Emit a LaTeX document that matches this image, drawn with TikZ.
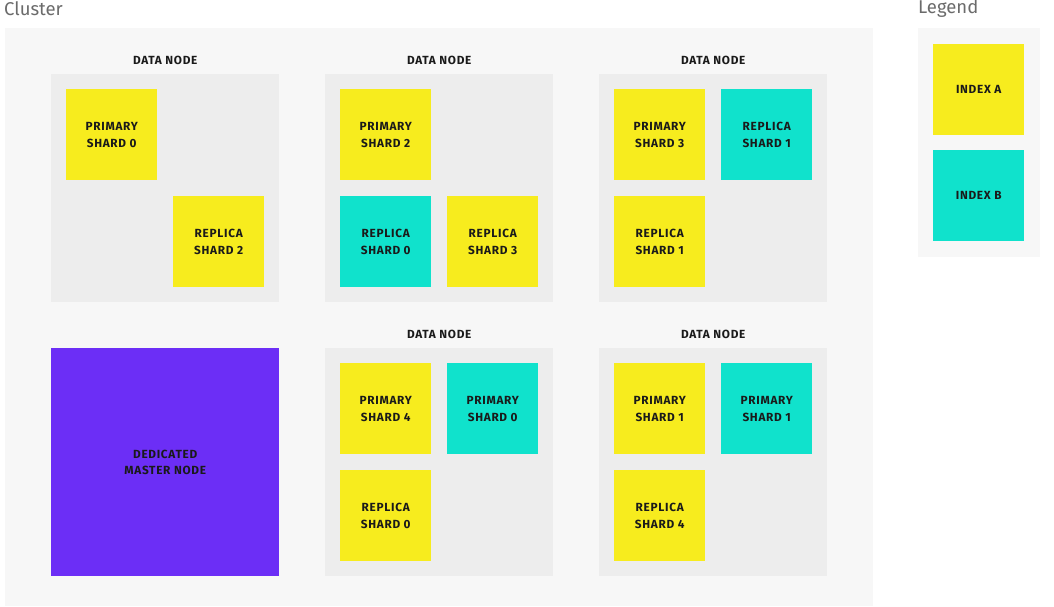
\documentclass[tikz,border=0pt]{standalone}
\usepackage{fontspec}
\setmainfont{Fira Sans}
\newfontfamily\labfont[LetterSpace=6]{Fira Sans}
\definecolor{clbg}{HTML}{F7F7F7}
\definecolor{nodebg}{HTML}{EDEDED}
\definecolor{idxa}{HTML}{F7EC1E}
\definecolor{idxb}{HTML}{10E2CC}
\definecolor{master}{HTML}{6C2EF6}
\definecolor{titlegrey}{HTML}{6B6B6B}
\definecolor{labtext}{HTML}{1A1A1A}
\tikzset{
  panel/.style={fill=clbg, draw=none, anchor=north west, inner sep=0pt},
  dnode/.style={fill=nodebg, draw=none, anchor=north west, inner sep=0pt, minimum width=228pt, minimum height=228pt},
  shardbox/.style={draw=none, anchor=north west, inner sep=0pt, minimum width=91pt, minimum height=91pt,
    text=labtext, font=\labfont\bfseries\fontsize{11.8}{16.5}\selectfont, align=center, text depth=-4pt},
  shardA/.style={shardbox, fill=idxa},
  shardB/.style={shardbox, fill=idxb},
  masterbox/.style={shardbox, fill=master, minimum width=228pt, minimum height=228pt},
  dntitle/.style={text=labtext, font=\labfont\bfseries\fontsize{11.8}{13}\selectfont, inner sep=0pt},
  sectitle/.style={text=titlegrey, font=\fontsize{18.5}{20}\selectfont, anchor=west, inner sep=0pt},
}
\begin{document}
\begin{tikzpicture}[x=1pt,y=-1pt]
\useasboundingbox (0,0) rectangle (1054,607);
\fill[white] (0,0) rectangle (1054,607);
% titles
\node[sectitle] (tcl) at (4,9) {Cluster};
\node[sectitle] (tlg) at (918,9) {Legend};
% cluster background
\node[panel, minimum width=868pt, minimum height=578pt] (cluster) at (5,28) {};
% legend background
\node[panel, minimum width=122pt, minimum height=229pt] (legend) at (918,28) {};
\node[shardA] (la) at (933,44) {INDEX A};
\node[shardB] (lb) at (933,150) {INDEX B};
% data nodes
\node[dnode] (n1) at (51,74) {};
\node[dnode] (n2) at (325,74) {};
\node[dnode] (n3) at (599,74) {};
\node[dnode] (n4) at (325,348) {};
\node[dnode] (n5) at (599,348) {};
\foreach \n in {n1,n2,n3,n4,n5}{
  \node[dntitle] (t\n) at ([shift={(0,-14)}]\n.north) {DATA NODE};
}
% master
\node[masterbox] (m) at (51,348) {DEDICATED\\MASTER NODE};
% node 1
\node[shardA] (n1a) at ([shift={(15,15)}]n1.north west) {PRIMARY\\SHARD 0};
\node[shardA] (n1d) at ([shift={(122,122)}]n1.north west) {REPLICA\\SHARD 2};
% node 2
\node[shardA] (n2a) at ([shift={(15,15)}]n2.north west) {PRIMARY\\SHARD 2};
\node[shardB] (n2c) at ([shift={(15,122)}]n2.north west) {REPLICA\\SHARD 0};
\node[shardA] (n2d) at ([shift={(122,122)}]n2.north west) {REPLICA\\SHARD 3};
% node 3
\node[shardA] (n3a) at ([shift={(15,15)}]n3.north west) {PRIMARY\\SHARD 3};
\node[shardB] (n3b) at ([shift={(122,15)}]n3.north west) {REPLICA\\SHARD 1};
\node[shardA] (n3c) at ([shift={(15,122)}]n3.north west) {REPLICA\\SHARD 1};
% node 4
\node[shardA] (n4a) at ([shift={(15,15)}]n4.north west) {PRIMARY\\SHARD 4};
\node[shardB] (n4b) at ([shift={(122,15)}]n4.north west) {PRIMARY\\SHARD 0};
\node[shardA] (n4c) at ([shift={(15,122)}]n4.north west) {REPLICA\\SHARD 0};
% node 5
\node[shardA] (n5a) at ([shift={(15,15)}]n5.north west) {PRIMARY\\SHARD 1};
\node[shardB] (n5b) at ([shift={(122,15)}]n5.north west) {PRIMARY\\SHARD 1};
\node[shardA] (n5c) at ([shift={(15,122)}]n5.north west) {REPLICA\\SHARD 4};
\end{tikzpicture}
\end{document}
